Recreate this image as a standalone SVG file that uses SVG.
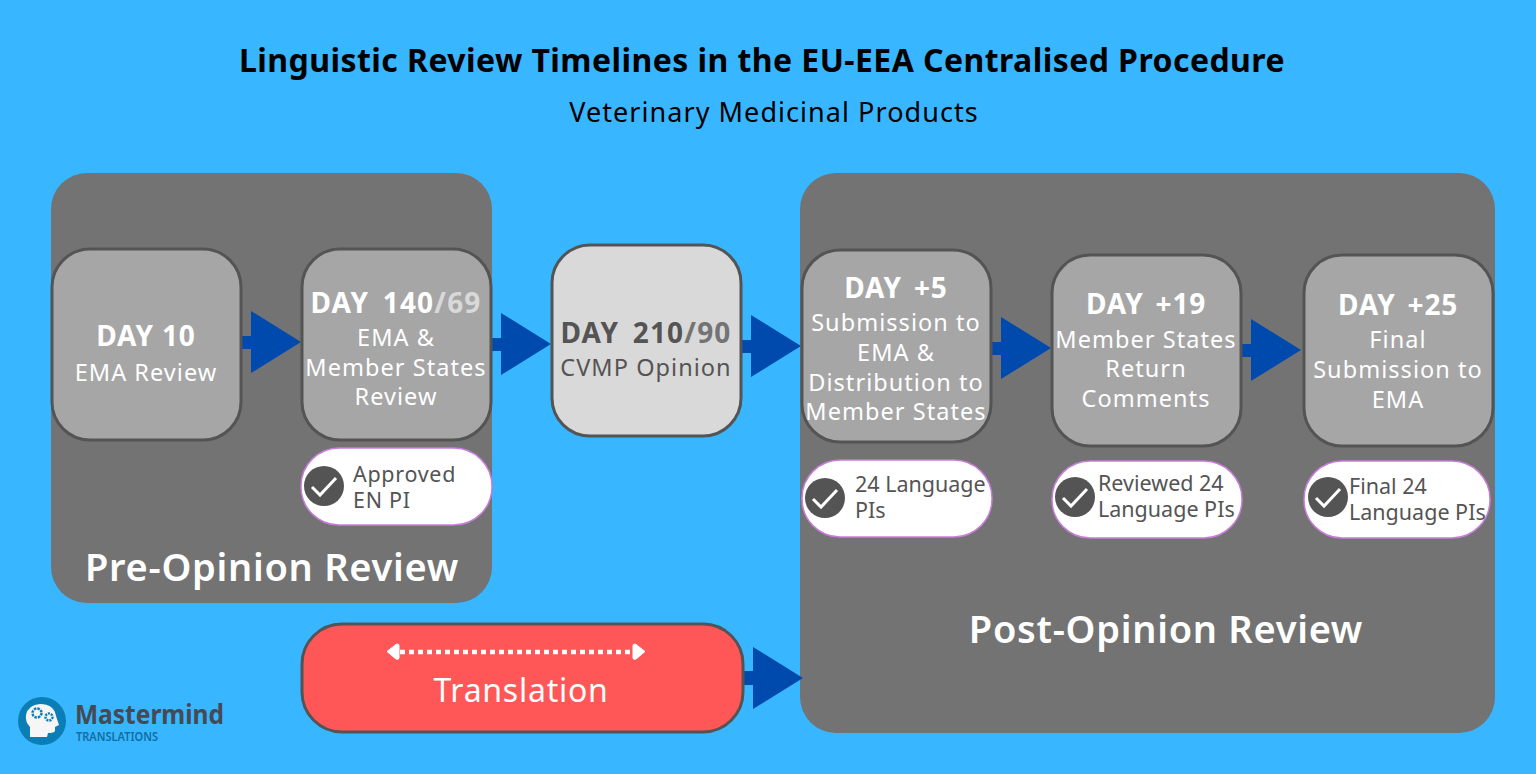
<svg xmlns="http://www.w3.org/2000/svg" width="1536" height="774" viewBox="0 0 1536 774">
<defs>
<style>
text{font-family:"Noto Sans","Open Sans","Liberation Sans",sans-serif;text-anchor:middle}
.panel{fill:#737373}
.node{fill:#a6a6a6;stroke:#545454;stroke-width:3}
.day{font-size:28px;font-weight:700;fill:#fff;letter-spacing:.8px}
.wide{letter-spacing:1.2px;word-spacing:5px}
.ws{word-spacing:4px}
.lab{font-size:23.500px;fill:#fff;letter-spacing:1.05px}
.pill{fill:#fff;stroke:#c77dd9;stroke-width:1.5}
.pt{font-size:21.500px;fill:#545454;text-anchor:start}
.chk{fill:#545454}
.tick{fill:none;stroke:#fff;stroke-width:3}
.arrow{fill:#004aad}
.ptitle{font-size:38px;font-weight:600;fill:#fff;letter-spacing:.72px}
</style>
<g id="tickmark"><circle class="chk" r="20"/><path class="tick" d="M-12,1 L-4,9 L12,-8"/></g>
</defs>
<rect width="1536" height="774" fill="#38b6ff"/>
<g id="title">
<text x="762" y="72" font-size="32" font-weight="700" fill="#000" letter-spacing=".43">Linguistic Review Timelines in the EU-EEA Centralised Procedure</text>
<text x="774" y="122" font-size="27" fill="#000" letter-spacing="1.05">Veterinary Medicinal Products</text>
</g>
<g id="pre-opinion"><rect class="panel" x="51" y="173" width="441" height="430" rx="36"/><text class="ptitle" x="272" y="581">Pre-Opinion Review</text></g>
<g id="post-opinion"><rect class="panel" x="800" y="173" width="695" height="560" rx="36"/><text class="ptitle" x="1166" y="643">Post-Opinion Review</text></g>
<g id="connectors">
<path class="arrow" d="M241,336H251V311L301,342L251,373V349H241Z"/>
<path class="arrow" d="M491,338H501V313L551,344L501,375V351H491Z"/>
<path class="arrow" d="M741,340H751V315L801,346L751,377V353H741Z"/>
<path class="arrow" d="M991,342H1001V317L1051,348L1001,379V355H991Z"/>
<path class="arrow" d="M1241,344H1251V319L1301,350L1251,381V357H1241Z"/>
<path class="arrow" d="M743,671H753V647L803,678L753,709V685H743Z"/>
</g>
<g id="n-day10"><rect class="node" x="52" y="249" width="189" height="191" rx="38"/><text class="day" x="146" y="346">DAY 10</text><text class="lab" x="146" y="381">EMA Review</text></g>
<g id="n-day140"><rect class="node" x="302" y="249" width="189" height="191" rx="38"/><text class="day wide" x="396" y="313">DAY 140<tspan fill="#d9d9d9">/69</tspan></text><text class="lab" x="396" y="346">EMA &amp;</text><text class="lab" x="396" y="376">Member States</text><text class="lab" x="396" y="405">Review</text></g>
<g id="n-day210"><rect class="node" style="fill:#d9d9d9" x="552" y="245" width="189" height="191" rx="38"/><text class="day wide" x="646" y="343" style="fill:#545454">DAY 210<tspan style="fill:#737373">/90</tspan></text><text class="lab" x="646" y="376" style="fill:#545454">CVMP Opinion</text></g>
<g id="n-day5"><rect class="node" x="802" y="250" width="189" height="192" rx="38"/><text class="day ws" x="896" y="298">DAY +5</text><text class="lab" x="896" y="331">Submission to</text><text class="lab" x="896" y="361">EMA &amp;</text><text class="lab" x="896" y="391">Distribution to</text><text class="lab" x="896" y="420">Member States</text></g>
<g id="n-day19"><rect class="node" x="1052" y="255" width="189" height="191" rx="38"/><text class="day ws" x="1146" y="314">DAY +19</text><text class="lab" x="1146" y="348">Member States</text><text class="lab" x="1146" y="377">Return</text><text class="lab" x="1146" y="407">Comments</text></g>
<g id="n-day25"><rect class="node" x="1304" y="255" width="189" height="191" rx="38"/><text class="day ws" x="1398" y="315">DAY +25</text><text class="lab" x="1398" y="348">Final</text><text class="lab" x="1398" y="378">Submission to</text><text class="lab" x="1398" y="408">EMA</text></g>
<g id="p-approved"><rect class="pill" x="301" y="448" width="191" height="77" rx="38"/><use href="#tickmark" x="324" y="486"/><text class="pt" x="353" y="482" letter-spacing=".7">Approved</text><text class="pt" x="353" y="508" letter-spacing=".7">EN PI</text></g>
<g id="p-24"><rect class="pill" x="802" y="460" width="190" height="77" rx="38"/><use href="#tickmark" x="825" y="498"/><text class="pt" x="855" y="492">24 Language</text><text class="pt" x="855" y="518">PIs</text></g>
<g id="p-reviewed"><rect class="pill" x="1052" y="461" width="190" height="77" rx="38"/><use href="#tickmark" x="1075" y="497"/><text class="pt" x="1098" y="491">Reviewed 24</text><text class="pt" x="1098" y="517">Language PIs</text></g>
<g id="p-final"><rect class="pill" x="1304" y="461" width="186" height="77" rx="38"/><use href="#tickmark" x="1328" y="497"/><text class="pt" x="1349" y="494">Final 24</text><text class="pt" x="1349" y="520">Language PIs</text></g>
<g id="n-translation"><rect x="302" y="624" width="441" height="108" rx="40" fill="#ff5757" stroke="#545454" stroke-width="3"/>
<path d="M400,652H632" stroke="#fff" stroke-width="4.500" stroke-dasharray="5 4" fill="none"/>
<path d="M387,651.500L396,644.500Q399,643 399,646V658Q399,660 396,659Z M645,651.500L636,644.500Q633,643 633,646V658Q633,660 636,659Z" fill="#fff" stroke="#fff"/>
<text x="521" y="702" font-size="32" fill="#fff" letter-spacing=".75">Translation</text></g>
<g id="logo">
<circle cx="42" cy="721" r="24" fill="#0a7eb5"/>
<path d="M30,737V727Q25,722 26,715Q28,705 40,704Q54,704 56,716L59,725L55,727V731Q54,733 48,733L47,737Z" fill="#f6f6f6"/>
<circle cx="37" cy="713" r="4.500" fill="none" stroke="#0a7eb5" stroke-width="2.500" stroke-dasharray="2.500 1"/>
<circle cx="49" cy="717" r="3.500" fill="none" stroke="#0a7eb5" stroke-width="2.500" stroke-dasharray="2 1"/>
<text x="75" y="724" font-size="27" font-weight="700" fill="#464a54" style="text-anchor:start" textLength="149" lengthAdjust="spacingAndGlyphs">Mastermind</text>
<text x="76" y="741" font-size="12" font-weight="600" fill="#0f6fa3" style="text-anchor:start" textLength="82" lengthAdjust="spacingAndGlyphs">TRANSLATIONS</text>
</g>
</svg>
